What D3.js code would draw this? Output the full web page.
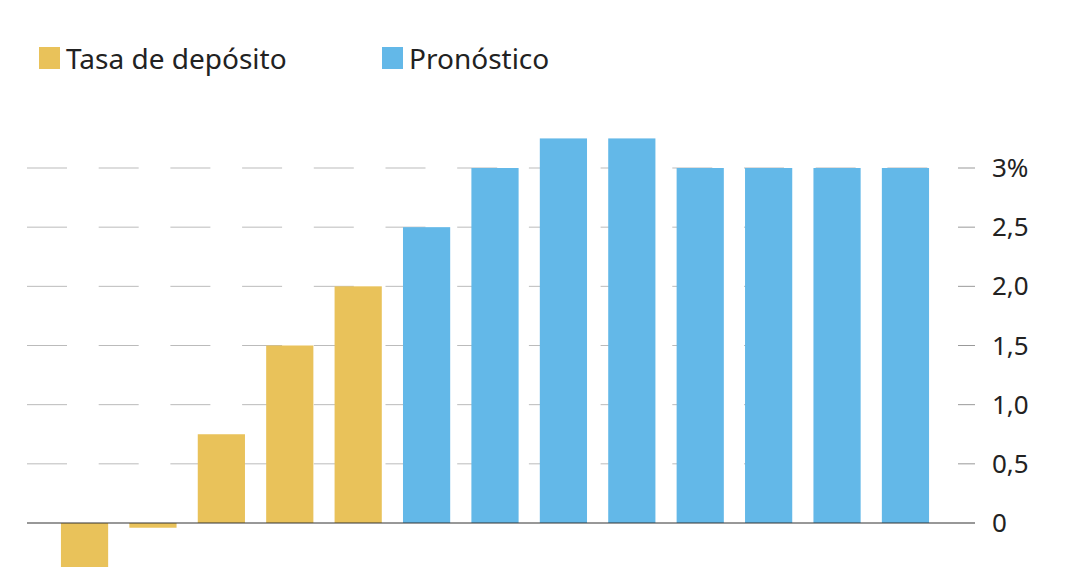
<!DOCTYPE html>
<html><head><meta charset="utf-8">
<script src="https://cdn.jsdelivr.net/npm/d3@7"></script>
<style>body{margin:0;background:#fff}svg{display:block}text{font-family:"Noto Sans","Open Sans",sans-serif}</style>
</head><body>
<script>
const categories = ["1","2","3","4","5","6","7","8","9","10","11","12","13"];
const values = [-0.5,-0.04,0.75,1.5,2.0,2.5,3.0,3.25,3.25,3.0,3.0,3.0,3.0];
const seriesOf = ["dep","dep","dep","dep","dep","f","f","f","f","f","f","f","f"];
const tickValues = [0,0.5,1,1.5,2,2.5,3];
const tickLabels = ["0","0,5","1,0","1,5","2,0","2,5","3%"];
const legendLabels = ["Tasa de depósito","Pronóstico"];
const colors = {dep:"#E9C25A", f:"#63B8E8"};

const W=1080,H=567;
const svg=d3.select("body").append("svg").attr("width",W).attr("height",H);
const y=d3.scaleLinear().domain([0,3]).range([523,168]);
const x=d3.scaleBand().domain(categories).range([50,940]).paddingInner(0.31).paddingOuter(0.16);

const g=svg.append("g");
tickValues.forEach((t,i)=>{
  if(t===0) return;
  g.append("line").attr("x1",27).attr("x2",958).attr("y1",y(t)).attr("y2",y(t))
   .attr("stroke","#bbb").attr("stroke-width",1).attr("stroke-dasharray","40,31.7");
  g.append("line").attr("x1",958).attr("x2",975).attr("y1",y(t)).attr("y2",y(t))
   .attr("stroke","#999").attr("stroke-width",1);
});
svg.selectAll("rect.bar").data(values).enter().append("rect").attr("class","bar")
  .attr("x",(d,i)=>x(categories[i])).attr("width",x.bandwidth())
  .attr("y",d=>y(Math.max(0,d))).attr("height",d=>Math.abs(y(d)-y(0)))
  .attr("fill",(d,i)=>colors[seriesOf[i]]);
svg.append("line").attr("x1",27).attr("x2",975).attr("y1",y(0)).attr("y2",y(0))
  .attr("stroke","#333").attr("stroke-width",1.2);
tickValues.forEach((t,i)=>{
  svg.append("text").attr("x",992).attr("y",y(t)+9).attr("font-size",26)
    .attr("fill","#222").text(tickLabels[i]);
});
const lx=[39,382];
legendLabels.forEach((l,i)=>{
  svg.append("rect").attr("x",lx[i]).attr("y",47).attr("width",21).attr("height",22)
    .attr("fill",i===0?colors.dep:colors.f);
  svg.append("text").attr("x",lx[i]+27).attr("y",69).attr("font-size",28)
    .attr("fill","#222").text(l);
});
</script>
</body></html>
